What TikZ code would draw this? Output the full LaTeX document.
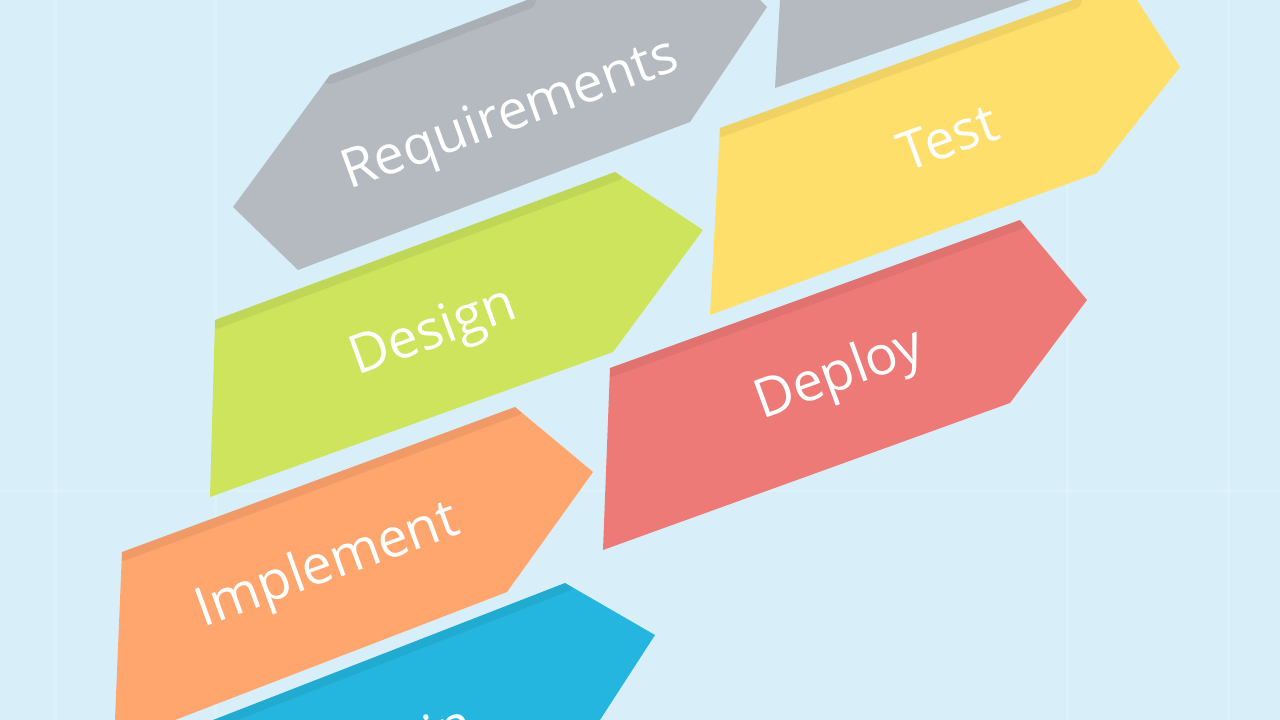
\documentclass[tikz,border=0pt]{standalone}
\usepackage{fontspec}
\setmainfont{Open Sans}
\definecolor{bgblue}{HTML}{D8EFFA}
\definecolor{reqgray}{HTML}{B4BAC0}
\definecolor{testyellow}{HTML}{FFDF6B}
\definecolor{designgreen}{HTML}{CDE45C}
\definecolor{deployred}{HTML}{EE7A78}
\definecolor{implorange}{HTML}{FFA56E}
\definecolor{maintblue}{HTML}{24B6DF}

\begin{document}
\begin{tikzpicture}[x=1pt, y=-1pt, line join=round, line cap=round,
  fold/.style={draw=black, line width=18pt, opacity=0.06},
  tag/.style={text=white, font=\fontsize{54}{58}\selectfont, rotate=20, inner sep=0pt}]

  % background
  \fill[bgblue] (0,0) rectangle (1280,720);
  \useasboundingbox (0,0) rectangle (1280,720);
  \clip (0,0) rectangle (1280,720);

  % faint grid
  \foreach \gx in {55,215,1067,1228}
    \draw[white, opacity=0.15, line width=3pt] (\gx,0) -- (\gx,720);
  \draw[white, opacity=0.15, line width=3pt] (0,490) -- (1280,490);

  % panels
  \fill[reqgray, path picture={\draw[fold] (330,75) -- (527,0);}]
    (527,0) -- (330,75) -- (233,207) -- (298,270) -- (690,122) -- (767,7) -- (760,0) -- cycle;
  \fill[reqgray] (780,0) -- (775,88) -- (1030,0) -- cycle;
  \fill[testyellow, path picture={\draw[fold] (720,128) -- (1073,0);}]
    (720,128) -- (1073,0) -- (1137,0) -- (1180,67) -- (1097,173) -- (710,315) -- cycle;
  \fill[designgreen, path picture={\draw[fold] (215,320) -- (615,172);}]
    (215,320) -- (615,172) -- (703,230) -- (613,352) -- (210,497) -- cycle;
  \fill[deployred, path picture={\draw[fold] (610,368) -- (1020,220);}]
    (610,368) -- (1020,220) -- (1087,300) -- (1010,403) -- (603,550) -- cycle;
  \fill[implorange, path picture={\draw[fold] (122,552) -- (515,407);}]
    (122,552) -- (515,407) -- (593,472) -- (507,592) -- (175,720) -- (115,720) -- cycle;
  \fill[maintblue, path picture={\draw[fold] (213,720) -- (565,583);}]
    (213,720) -- (565,583) -- (655,635) -- (600,720) -- cycle;

  % labels
  \node[tag] (req) at (511,117) {Requirements};
  \node[tag] (test) at (948,137) {Test};
  \node[tag] (design) at (434,334) {Design};
  \node[tag] (deploy) at (840,376) {Deploy};
  \node[tag] (impl) at (328,567) {Implement};
  \node[tag, anchor=base east] (maint) at (477,738) {Maintain};

\end{tikzpicture}
\end{document}
